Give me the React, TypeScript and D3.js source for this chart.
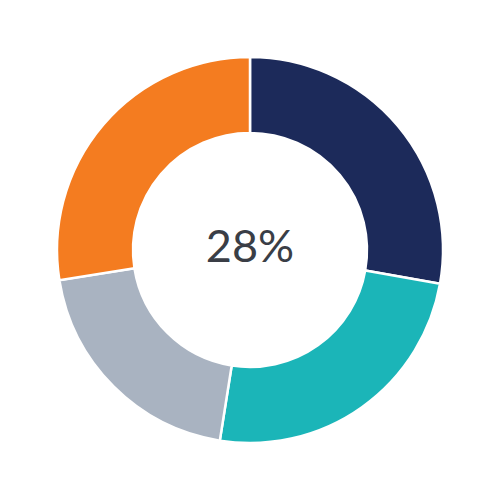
import React from "react";
import * as d3 from "d3";

const categories = ["Navy", "Teal", "Gray", "Orange"];
const values = [27.8, 24.7, 20, 27.5];
const colors = ["#1c2a5a", "#1bb5b8", "#a9b3c1", "#f47c20"];
const centerLabel = "28%";

export default function App() {
  const width = 500;
  const height = 500;
  const outer = 193;
  const inner = 117;

  const pie = d3
    .pie<number>()
    .sort(null)
    .value((d) => d);
  const arcs = pie(values);

  const arc = d3.arc<d3.PieArcDatum<number>>().innerRadius(inner).outerRadius(outer);

  return (
    <svg
      width={width}
      height={height}
      style={{ position: "absolute", left: 0, top: 0, background: "#fff" }}
    >
      <g transform={`translate(${width / 2},${height / 2})`}>
        {arcs.map((a, i) => (
          <path
            key={categories[i]}
            d={arc(a) || ""}
            fill={colors[i]}
            stroke="#fff"
            strokeWidth={2.5}
          />
        ))}
        <text
          x={0}
          y={12}
          textAnchor="middle"
          fontFamily="Lato, 'Open Sans', sans-serif"
          fontSize={45}
          fill="#3a3e46"
        >
          {centerLabel}
        </text>
      </g>
    </svg>
  );
}
